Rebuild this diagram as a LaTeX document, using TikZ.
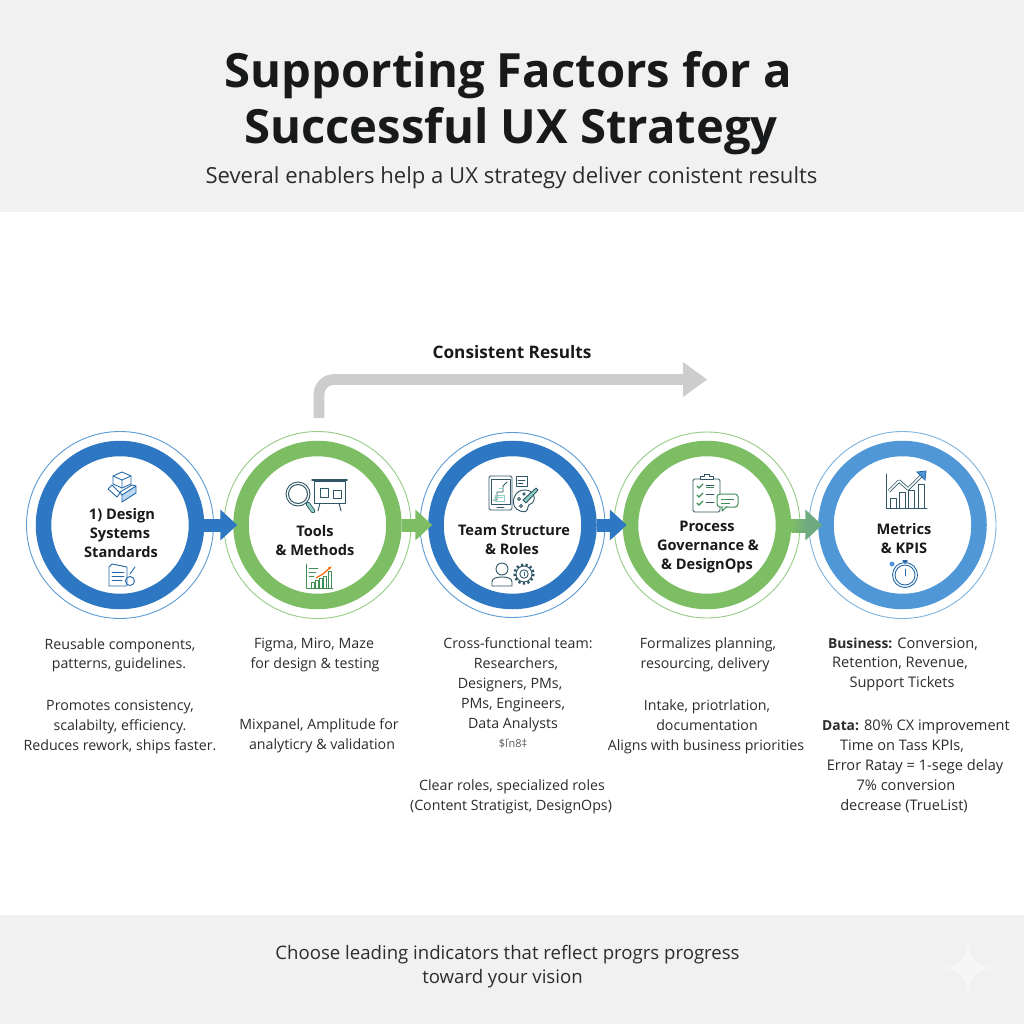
\documentclass[tikz,border=0pt]{standalone}
\usepackage{fontspec}
\setmainfont{Open Sans}
\usetikzlibrary{arrows.meta,calc}
\definecolor{ubl}{HTML}{2E77C2}
\definecolor{ugr}{HTML}{7DBE64}
\definecolor{usk}{HTML}{4F97D6}
\definecolor{ublt}{HTML}{5C9BD5}
\definecolor{ugrt}{HTML}{96CC85}
\definecolor{uskt}{HTML}{7DB4E0}
\definecolor{band}{HTML}{F1F1F1}
\definecolor{uink}{HTML}{18191B}
\definecolor{ubody}{HTML}{2B2C2E}
\definecolor{icn}{HTML}{2F5566}
\definecolor{icb}{HTML}{2468A8}
\definecolor{icg}{HTML}{3E8F55}
\definecolor{ict}{HTML}{8CCFC0}
\definecolor{icl}{HTML}{BBD8F0}
\definecolor{uarr}{HTML}{CDCDCD}
\definecolor{umut}{HTML}{6FAA80}
\definecolor{ustar}{HTML}{F6F6F6}
\tikzset{
  ring/.style={circle,draw=#1,line width=15.5pt,fill=white,minimum size=153pt,inner sep=0pt},
  halo/.style={draw=#1,line width=0.9pt},
  flow/.style={draw=#1,line width=13pt,shorten >=-4pt,yshift=-1pt,-{Triangle[length=17pt,width=30pt]}},
  ringtext/.style={anchor=base,font=\bfseries\fontsize{14.6}{18}\selectfont,text=uink,inner sep=0pt},
  bodytext/.style={anchor=base,font=\fontsize{14.2}{17}\selectfont,text=ubody,inner sep=0pt},
  bodywide/.style={bodytext,font=\fontsize{14.6}{17}\selectfont},
  icon/.style={draw=icn,line width=0.9pt,line join=round,line cap=round},
  iconb/.style={draw=icb,line width=0.9pt,line join=round,line cap=round},
  icong/.style={draw=icg,line width=0.9pt,line join=round,line cap=round},
}
\newcommand{\bl}[4]{\node[bodytext] (#1) at (#2,#3) {#4};}
\newcommand{\bw}[4]{\node[bodywide] (#1) at (#2,#3) {#4};}
\newcommand{\rl}[4]{\node[ringtext] (#1) at (#2,#3) {#4};}
\begin{document}
\begin{tikzpicture}[x=1pt,y=-1pt]
\useasboundingbox (0,0) rectangle (1024,1024);
\fill[white] (0,0) rectangle (1024,1024);
\fill[band] (0,0) rectangle (1024,212);
\fill[band] (0,915) rectangle (1024,1024);
\fill[ustar] (968,944) .. controls (971,960) and (976,965) .. (992,968) .. controls (976,971) and (971,976) .. (968,992) .. controls (965,976) and (960,971) .. (944,968) .. controls (960,965) and (965,960) .. (968,944) -- cycle;

% title
\node[anchor=base,inner sep=0pt,font=\bfseries\fontsize{47.2}{50}\selectfont,text=uink] (title1) at (508.5,88) {Supporting Factors for a};
\node[anchor=base,inner sep=0pt,font=\bfseries\fontsize{47.2}{50}\selectfont,text=uink] (title2) at (511,144) {Successful UX Strategy};
\node[anchor=base,inner sep=0pt,font=\fontsize{22.1}{25}\selectfont,text=ubody] (sub) at (511.5,184) {Several enablers help a UX strategy deliver conistent results};

% thin halos
\draw[halo=ublt] (120,525) circle (93.5);
\draw[halo=ugrt] (317.5,525) circle (93.5);
\draw[halo=ublt] (512.5,525) circle (92.5);
\draw[halo=ugrt] (707,525) circle (93);
\draw[halo=uskt] (902.5,525) circle (93.5);

% rings
\node[ring=ubl] (c1) at (120,525) {};
\node[ring=ugr] (c2) at (317.5,525) {};
\node[ring=ubl] (c3) at (512.5,525) {};
\node[ring=ugr] (c4) at (707,525) {};
\node[ring=usk] (c5) at (902.5,525) {};

% flow arrows
\draw[flow=ubl] (c1.east) -- (c2.west);
\draw[flow=ugr] (c2.east) -- (c3.west);
\draw[flow=ubl] (c3.east) -- (c4.west);
\draw[flow=umut] (c4.east) -- (c5.west);
\shade[left color=ugr,right color=umut] ($(c4.east)+(0,-5.5)$) rectangle ($(c4.east)+(15,7.5)$);

% top arrow
\coordinate (ra) at (319,418);
\coordinate (rb) at (683,379.5);
\draw[uarr,line width=10.8pt,rounded corners=15pt] (ra) -- (319,379.5) -- (rb);
\fill[uarr] (683,362) -- (707,379.5) -- (683,397) -- cycle;
\node[anchor=base,inner sep=0pt,font=\bfseries\fontsize{17.2}{20}\selectfont,text=uink] (res) at (512,358) {Consistent Results};

% ring labels
\rl{l1a}{122}{519}{1) Design}
\rl{l1b}{120}{538}{Systems}
\rl{l1c}{121}{557}{Standards}
\rl{l2a}{315}{536}{Tools}
\rl{l2b}{315}{555}{\& Methods}
\rl{l3a}{514}{535}{Team Structure}
\rl{l3b}{512}{554}{\& Roles}
\rl{l4a}{707}{531}{Process}
\rl{l4b}{708}{550}{Governance \&}
\rl{l4c}{707}{569}{\& DesignOps}
\rl{l5a}{904}{534}{Metrics}
\rl{l5b}{904}{553}{\& KPIS}

% icon 1a: blocks
\draw[iconb,fill=white] (122,472) -- (131,476) -- (131,484) -- (122,488) -- (113,484) -- (113,476) -- cycle;
\draw[iconb] (113,476) -- (122,480) -- (131,476) (122,480) -- (122,488);
\draw[iconb,fill=white] (108,489) -- (112,485) -- (120,493) -- (117,497) -- cycle;
\draw[iconb,fill=icl] (122,502) -- (136,493) -- (136,486) -- (122,495) -- cycle;
\draw[iconb] (122,495) -- (120,492) -- (132,485) -- (136,486);
% icon 1b: document
\draw[iconb,fill=white] (112,564) -- (127,567) -- (127,586) -- (109,586) -- (109,567) -- cycle;
\draw[iconb] (112,572) -- (124,572) (112,576) -- (124,576) (112,580) -- (122,580);
\draw[iconb] (130,581) circle (4.5);
\draw[iconb] (130,574) -- (135,567);

% icon 2a: magnifier + board
\draw[icon] (298,494) circle (12);
\draw[icon,line width=1pt] (298,494) circle (9.5);
\draw[draw=icn,line width=4.5pt,line cap=round] (308,504) -- (313,511);
\draw[draw=ict,line width=2.8pt,line cap=round] (308,504) -- (313,511);
\draw[icon,fill=white] (314,481) rectangle (345,503);
\draw[icon,line width=1.5pt] (312,480) -- (347,480);
\draw[icon] (320,503) -- (318,511) (339,503) -- (341,511);
\draw[icon] (320,488) rectangle (328,497) (333,490) rectangle (341,498);

% icon 2b: chart
\draw[icong] (306,564) -- (306,588) -- (333,588);
\draw[icong] (309,568) -- (318,568) (309,572) -- (316,572) (309,576) -- (314,576);
\foreach \bx/\bt in {311/582,315/580,319/578,323/576,328/571}{\draw[icong] (\bx,588) -- (\bx,\bt) -- (\bx+3,\bt) -- (\bx+3,588);}
\draw[draw=orange!80!red,line width=1.2pt,-{Latex[length=4pt]}] (316,578) -- (323,574) -- (332,566);

% icon 3a: tablet + palette
\draw[icon,rounded corners=1.5pt] (489,476) rectangle (512,510);
\draw[icon] (491,479) rectangle (510,504) (497,507) -- (504,507);
\draw[icon] (493,500) -- (497,500) -- (497,492) -- (503,492) -- (503,486) -- (507,482);
\draw[draw=ict,line width=1pt] (494,497) -- (503,497) (499,488) -- (503,488);
\draw[draw=ict,line width=1pt] (495,495) rectangle (504,501);
\draw[icon] (516,476) rectangle (527,486) (518,480) -- (525,480) (518,483) -- (523,483);
\draw[icon,fill=white] (525,490) .. controls (533,490) and (535,497) .. (534,500) .. controls (533,505) and (528,503) .. (528,507) .. controls (528,511) and (525,513) .. (520,511) .. controls (515,509) and (512,505) .. (514,498) .. controls (516,492) and (520,490) .. (525,490) -- cycle;
\draw[icon,fill=ict] (536,488) -- (538,490) -- (526,503) -- (523,500) -- cycle;
\draw[icon] (519,499) circle (1.5) (521,506) circle (1.5) (524,494) circle (1.3);

% icon 3b: person + gear
\draw[icon] (502,569) circle (6);
\draw[icon] (492,586) -- (492,582) .. controls (492,578) and (497,577) .. (502,577) .. controls (507,577) and (512,578) .. (512,582) -- (512,586) -- cycle;
\draw[draw=icn,line width=2.4pt,dash pattern=on 2.2pt off 2.4pt] (524,574) circle (9.5);
\draw[icon] (524,574) circle (8) (524,574) circle (4.2);
\draw[icb,line width=1pt] (524,572) -- (524,576);

% icon 4: clipboard + chat
\draw[icon,fill=white,rounded corners=1.5pt] (693,479) rectangle (720,512);
\draw[icon,fill=white] (700,479) -- (700,476) -- (704,476) -- (704,474) -- (709,474) -- (709,476) -- (713,476) -- (713,479) -- cycle;
\foreach \ry in {486,495,503}{
  \draw[draw=icg,line width=1.2pt,line cap=round] (697,\ry) -- (699,\ry+2) -- (703,\ry-2);
  \draw[icon] (706,\ry-1) -- (714,\ry-1);
}
\draw[draw=icg,line width=0.9pt] (706,487) -- (714,487);
\draw[draw=icg,line width=1pt,fill=white,rounded corners=3pt] (717,494) rectangle (738,507);
\draw[draw=icg,line width=1pt,fill=white,line join=round] (722,506.5) -- (722,511) -- (727,506.5);
\draw[draw=icg,line width=1pt] (721,499) -- (734,499) (721,503) -- (730,503);

% icon 5a: rising chart
\draw[icon] (886,474) -- (886,508) -- (927,508);
\foreach \bx/\bt in {890/498,899/492,908/490,918/484}{\draw[icon] (\bx,508) -- (\bx,\bt) -- (\bx+6,\bt) -- (\bx+6,508);}
\draw[draw=icn,line width=3.2pt,line join=round] (889,491) -- (899,481) -- (908,489) -- (924,473);
\draw[draw=white,line width=1.6pt,line join=round] (889,491) -- (899,481) -- (908,489) -- (924,473);
\draw[draw=icb,fill=usk,line width=0.8pt] (917,472) -- (926,471) -- (925,480) -- cycle;

% icon 5b: stopwatch
\draw[iconb] (905,575) circle (12.5);
\draw[iconb] (905,575) circle (10);
\draw[iconb,line width=1.5pt] (903,561) -- (907,561) (905,561) -- (905,563);
\draw[iconb] (905,576) -- (905,569);
\fill[usk] (892,564) circle (2.5);

% body text
\bl{a1}{120}{649}{Reusable components,}
\bl{a2}{119}{668}{patterns, guidelines.}
\bl{a3}{120}{710}{Promotes consistency,}
\bl{a4}{120}{730}{scalabilty, efficiency.}
\bl{a5}{120}{750}{Reduces rework, ships faster.}

\bl{b1}{314}{648}{Figma, Miro, Maze}
\bl{b2}{315}{668}{for design \& testing}
\bl{b3}{319}{729}{Mixpanel, Amplitude for}
\bl{b4}{322}{749}{analyticry \& validation}

\bl{d1}{518}{648}{Cross-functional team:}
\bl{d2}{516}{668}{Researchers,}
\bl{d3}{510}{688}{Designers, PMs,}
\bl{d4}{513}{708}{PMs, Engineers,}
\bl{d5}{513}{728}{Data Analysts}
\node[anchor=base,inner sep=0pt,font=\fontsize{11}{13}\selectfont,text=ubody!80!white] (d6) at (513,747.5) {\$ſn8‡};
\bl{d7}{512}{790}{Clear roles, specialized roles}
\bl{d8}{511}{810}{(Content Stratigist, DesignOps)}

\bl{e1}{708}{648}{Formalizes planning,}
\bl{e2}{705}{668}{resourcing, delivery}
\bl{e3}{707}{710}{Intake, priotrlation,}
\bl{e4}{707}{730}{documentation}
\bl{e5}{706}{750}{Aligns with business priorities}

\bw{f1}{903}{648}{{\bfseries\fontsize{13.8}{17}\selectfont Business:} Conversion,}
\bw{f2}{900}{667}{Retention, Revenue,}
\bw{f3}{902}{687}{Support Tickets}
\bw{f4}{916}{730}{{\bfseries\fontsize{13.8}{17}\selectfont Data:} 80\% CX improvement}
\bw{f5}{902}{750}{Time on Tass KPIs,}
\bw{f6}{915}{770}{Error Ratay = 1-sege delay}
\bw{f7}{906}{790}{7\% conversion}
\bw{f8}{904}{810}{decrease (TrueList)}

% footer
\node[anchor=base,inner sep=0pt,font=\fontsize{18.6}{21}\selectfont,text=ubody] (foot1) at (507.5,959) {Choose leading indicators that reflect progrs progress};
\node[anchor=base,inner sep=0pt,font=\fontsize{18.6}{21}\selectfont,text=ubody] (foot2) at (502.5,983) {toward your vision};
\end{tikzpicture}
\end{document}
